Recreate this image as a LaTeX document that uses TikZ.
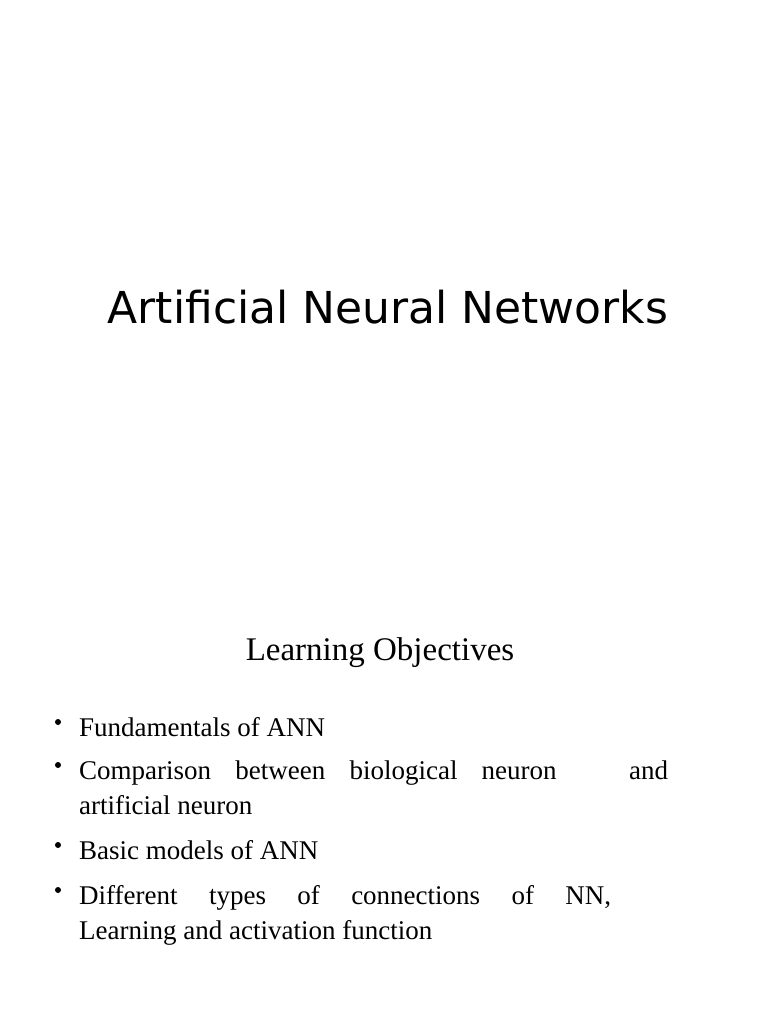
\documentclass[tikz,border=0pt]{standalone}
\usepackage{fontspec}
\setmainfont{Liberation Serif}
\newfontfamily\titlefont{DejaVu Sans}
\begin{document}
\begin{tikzpicture}[x=1pt,y=-1pt,
  txt/.style={inner sep=0pt,anchor=base west,font=\fontsize{27}{32}\selectfont},
  dot/.style={circle,fill=black,inner sep=0pt,minimum size=6pt}]
\useasboundingbox[fill=white] (0,0) rectangle (768,1024);
\node[inner sep=0pt,anchor=base,font=\titlefont\fontsize{44}{52}\selectfont] (title) at (388,323) {Artificial Neural Networks};
\node[inner sep=0pt,anchor=base,font=\fontsize{33}{40}\selectfont] (lo) at (380,660) {Learning Objectives};
\node[dot] (b1) at (58,722) {};
\node[txt] (l1) at (79,736) {Fundamentals of ANN};
\node[dot] (b2) at (58,765) {};
\node[txt] (l2) at (79,779) {\makebox[589pt][s]{Comparison between biological neuron \ \ and}};
\node[txt] (l3) at (79,814) {artificial neuron};
\node[dot] (b3) at (58,845) {};
\node[txt] (l4) at (79,859) {Basic models of ANN};
\node[dot] (b4) at (58,890) {};
\node[txt] (l5) at (79,904) {\makebox[532pt][s]{Different types of connections of NN,}};
\node[txt] (l6) at (79,939) {Learning and activation function};
\end{tikzpicture}
\end{document}
